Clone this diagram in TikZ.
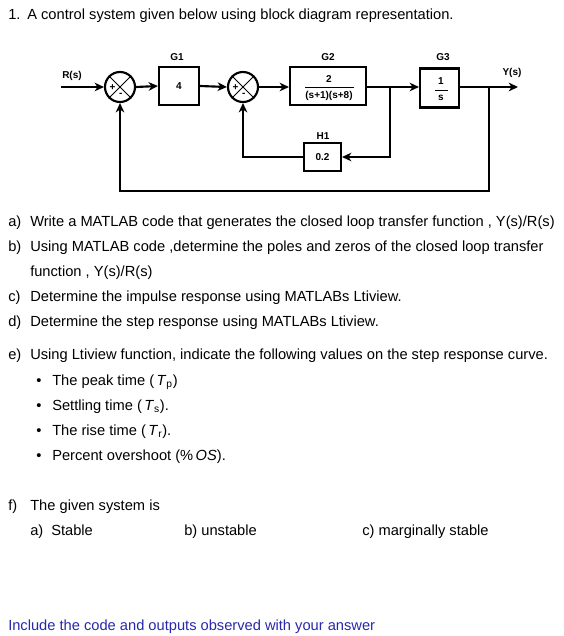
\documentclass[tikz,border=0pt]{standalone}
\usepackage{fontspec}
\setmainfont{Liberation Sans}
\usetikzlibrary{arrows.meta}
\definecolor{noteblue}{RGB}{40,40,170}
\begin{document}
\begin{tikzpicture}[x=0.75pt,y=-0.75pt,
  txt/.style={anchor=base west,inner sep=0pt,font=\fontsize{11}{13}\selectfont},
  lbl/.style={inner sep=0pt,font=\bfseries\fontsize{7.5}{9}\selectfont},
  blk/.style={draw,line width=1.6pt,inner sep=0pt,font=\bfseries\fontsize{7.5}{9}\selectfont},
  sumc/.style={draw,circle,line width=1.6pt,minimum size=22.5pt,inner sep=0pt},
  conn/.style={line width=1.6pt},
  bar/.style={line width=0.6pt},
  arr/.style={conn,-{Stealth[length=7pt,width=6.5pt,inset=2.2pt]}},
  sgn/.style={inner sep=0pt,font=\bfseries\fontsize{7.5}{8}\selectfont}]
\useasboundingbox (0,0) rectangle (564,636);
% ---- block diagram ----
\coordinate (rin) at (61,87);
\node[sumc] (s1) at (120,87) {};
\node[blk,minimum width=30pt,minimum height=28.5pt] (g1) at (179,86) {4};
\node[sumc] (s2) at (243,87) {};
\node[blk,minimum width=57pt,minimum height=28.5pt] (g2) at (328,86) {};
\node[lbl] (g2n) at (329,79.5) {2};
\node[lbl] (g2d) at (329,96) {(s+1)(s+8)};
\draw[bar] (305,87.5) -- (354,87.5);
\node[blk,minimum width=29.25pt,minimum height=29.25pt] (g3) at (439.5,88) {};
\node[lbl] (g3n) at (441,81.5) {1};
\node[lbl] (g3d) at (441,98) {s};
\draw[bar] (435,90) -- (448,90);
\node[blk,minimum width=27.75pt,minimum height=21pt] (h1) at (322.5,157) {0.2};
\coordinate (yout) at (518,87);
\coordinate (b1) at (390,87);
\coordinate (b2) at (489,87);
\coordinate (b1d) at (390,157);
\coordinate (h1l) at (243,157);
\coordinate (b2d) at (489,191);
\coordinate (fbl) at (120,191);
% cross inside summers
\foreach \s in {s1,s2}{
  \draw[line width=0.7pt] (\s.north east) -- (\s.south west);
  \draw[line width=0.7pt] (\s.north west) -- (\s.south east);
  \node[sgn] at ([xshift=-5.6pt,yshift=-0.6pt]\s.center) {+};
  \node[sgn] at ([xshift=0.6pt,yshift=-6.2pt]\s.center) {-};
}
% labels
\node[lbl] (lr) at (72,76) {R(s)};
\node[lbl] (lg1) at (177,57) {G1};
\node[lbl] (lg2) at (328,57) {G2};
\node[lbl] (lg3) at (443,57) {G3};
\node[lbl] (ly) at (512,73) {Y(s)};
\node[lbl] (lh1) at (323,136) {H1};
% connectors
\draw[arr] (rin) -- (s1.west);
\draw[arr] (s1.east) -- (g1.west);
\draw[arr] (g1.east) -- (s2.west);
\draw[arr] (s2.east) -- (g2.west |- s2.east);
\draw[arr] (g2.east |- b1) -- (g3.west |- b1);
\draw[arr] (g3.east |- b2) -- (yout);
\draw[arr] (b1) -- (b1d) -- (h1.east);
\draw[arr] (h1.west) -- (h1l) -- (s2.south);
\draw[arr] (b2) -- (b2d) -- (fbl) -- (s1.south);
% ---- text ----
\node[txt] (t0) at (8,19) {1.};
\node[txt] (t0b) at (27,19) {A control system given below using block diagram representation.};
\node[txt] (ta) at (8,226) {a)};
\node[txt] (tat) at (30,226) {Write a MATLAB code that generates the closed loop transfer function , Y(s)/R(s)};
\node[txt] (tb) at (8,251) {b)};
\node[txt] (tbt) at (30,251) {Using MATLAB code ,determine the poles and zeros of the closed loop transfer};
\node[txt] (tbt2) at (30,276) {function , Y(s)/R(s)};
\node[txt] (tc) at (8,301) {c)};
\node[txt] (tct) at (30,301) {Determine the impulse response using MATLABs Ltiview.};
\node[txt] (td) at (8,326) {d)};
\node[txt] (tdt) at (30,326) {Determine the step response using MATLABs Ltiview.};
\node[txt] (te) at (8,359) {e)};
\node[txt] (tet) at (30,359) {Using Ltiview function, indicate the following values on the step response curve.};
\node[txt] (bu1) at (36,385) {•};
\node[txt] (bt1) at (52,385) {The peak time (\,\textit{T}\textsubscript{p})};
\node[txt] (bu2) at (36,410) {•};
\node[txt] (bt2) at (52,410) {Settling time (\,\textit{T}\textsubscript{s}).};
\node[txt] (bu3) at (36,435) {•};
\node[txt] (bt3) at (52,435) {The rise time (\,\textit{T}\textsubscript{r}).};
\node[txt] (bu4) at (36,460) {•};
\node[txt] (bt4) at (52,460) {Percent overshoot (\%\,\textit{OS}).};
\node[txt] (tf) at (8,510) {f)};
\node[txt] (tft) at (30,510) {The given system is};
\node[txt] (o1) at (30,535) {a)};
\node[txt] (o1t) at (51,535) {Stable};
\node[txt] (o2) at (184,535) {b) unstable};
\node[txt] (o3) at (362,535) {c) marginally stable};
\node[txt,text=noteblue] (inc) at (8,630) {Include the code and outputs observed with your answer};
\end{tikzpicture}
\end{document}
